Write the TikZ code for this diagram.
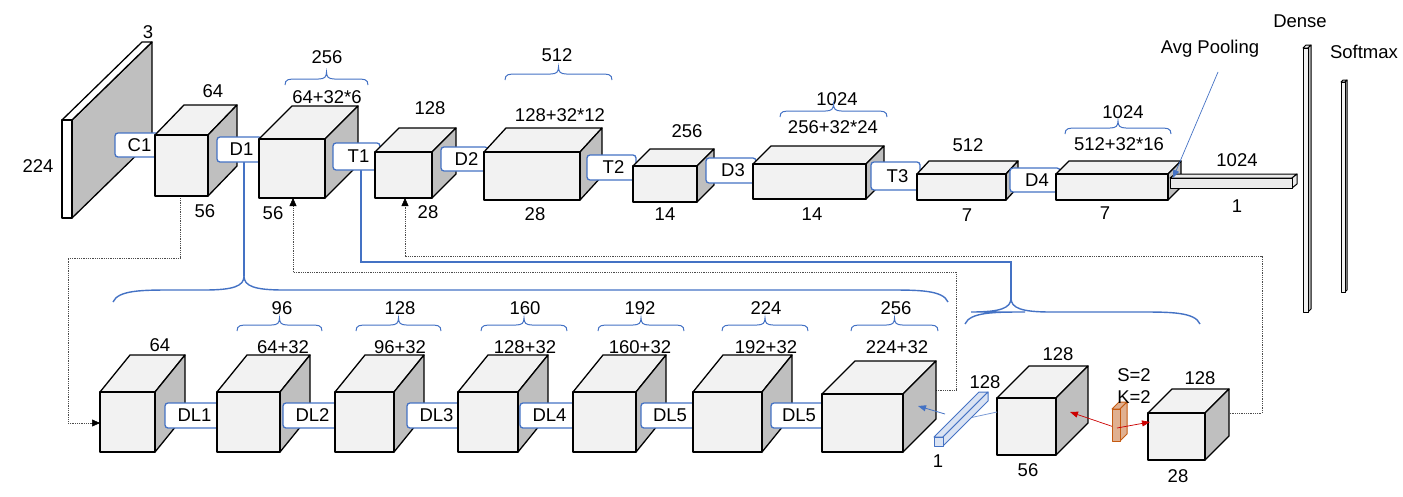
\documentclass[tikz,border=0pt]{standalone}
\usepackage{fontspec}
\setmainfont{Liberation Sans}
\usetikzlibrary{arrows.meta}
\definecolor{bl}{HTML}{4472C4}
\definecolor{lb}{HTML}{DAE3F3}
\definecolor{orn}{HTML}{C55A11}
\definecolor{ornf}{HTML}{E0B090}
\newcommand\mycube[7][]{%
 \filldraw[cube,#1] (#2,#3) -- ++(#6,-#7) -- (#4+#6,#3-#7) -- (#4,#3) -- cycle;
 \filldraw[cube,fill=sidec,#1] (#4,#3) -- (#4+#6,#3-#7) -- (#4+#6,#5-#7) -- (#4,#5) -- cycle;
 \filldraw[cube,#1] (#2,#3) rectangle (#4,#5);}
\newcommand\mybox[5]{\draw[lbox] (#1,#2) rectangle (#3,#4);
 \node[txt] (#5) at ({(#1+#3)/2+2},{(#2+#4)/2}) {#5};}
\newcommand\sbrace[3]{% x1 x2 y (bottom)
 \draw[bl,line width=1pt] (#1,#3) .. controls (#1,#3-6) and (#1+4,#3-6) .. (#1+12,#3-6)
  -- ({(#1+#2)/2-8},#3-6) .. controls ({(#1+#2)/2-2},#3-6) and ({(#1+#2)/2},#3-8) .. ({(#1+#2)/2},#3-13)
  .. controls ({(#1+#2)/2},#3-8) and ({(#1+#2)/2+2},#3-6) .. ({(#1+#2)/2+8},#3-6)
  -- (#2-12,#3-6) .. controls (#2-4,#3-6) and (#2,#3-6) .. (#2,#3);}
\newcommand\bbrace[4]{% x1 tip x2 y(bottom)
 \draw[bl,line width=1.4pt] (#1,#4) .. controls (#1+5,#4-12) and (#1+30,#4-12) .. (#1+60,#4-12)
  -- (#2-40,#4-12) .. controls (#2-10,#4-12) and (#2,#4-16) .. (#2,#4-26)
  .. controls (#2,#4-16) and (#2+10,#4-12) .. (#2+40,#4-12)
  -- (#3-60,#4-12) .. controls (#3-30,#4-12) and (#3-5,#4-12) .. (#3,#4);}
\begin{document}
\begin{tikzpicture}[x=1pt,y=-1pt,
 cube/.style={draw=black,line width=1.3pt,fill=frontc,line join=round},
 lbox/.style={draw=bl,line width=1.3pt,fill=white,rounded corners=3pt},
 txt/.style={font=\fontsize{18.5}{18.5}\selectfont,inner sep=0pt},
 dot/.style={densely dotted,line width=0.8pt,gray!60!black},
 tip/.style={-{Triangle[length=8pt,width=7pt]}},
 bline/.style={bl,line width=1.3pt}]
\colorlet{frontc}{black!5}
\colorlet{sidec}{black!25}
\useasboundingbox (0,0) rectangle (1403,496);
% connector lines
\draw[bline] (244,160) -- (244,276);
\draw[bline] (361,170) -- (361,262) -- (1011,262) -- (1011,302);
\draw[dot] (180,198) -- (180,258) -- (68,258) -- (68,423) coordinate (e1);
\coordinate (c0in) at (100,423);
\draw[dot] (e1) -- (93,423);
\draw[tip,black,line width=0.5pt,shorten <=24pt] (e1) -- (c0in);
\draw[dot] (936,390) -- (956,390) -- (956,272) -- (293,272) coordinate (e2);
\coordinate (d1b) at (293,198);
\draw[dot] (e2) -- (293,205);
\draw[tip,black,line width=0.5pt,shorten <=67pt] (e2) -- (d1b);
\draw[dot] (1228,413) -- (1262,413) -- (1262,256) -- (405,256) coordinate (e3);
\coordinate (t1b) at (405,198);
\draw[dot] (e3) -- (405,205);
\draw[tip,black,line width=0.5pt,shorten <=51pt] (e3) -- (t1b);
% top row
\filldraw[cube,fill=sidec] (72,120) -- (152,42) -- (152,140) -- (72,218) -- cycle;
\filldraw[cube,fill=white] (62,120) -- (142,42) -- (152,42) -- (72,120) -- cycle;
\filldraw[cube,fill=white] (62,120) rectangle (72,218);
\mybox{115}{133}{160}{157}{C1}
\mycube{155}{135}{208}{196}{29}{30}
\mybox{217}{137}{262}{162}{D1}
\mycube{259}{139}{325}{198}{33}{33}
\mybox{333}{143}{380}{170}{T1}
\mycube{375}{152}{432}{198}{24}{24}
\mybox{441}{147}{488}{171}{D2}
\mycube{484}{152}{580}{200}{22}{24}
\mybox{587}{155}{636}{180}{T2}
\mycube{633}{166}{697}{202}{17}{17}
\mybox{706}{158}{756}{183}{D3}
\mycube{753}{164}{866}{199}{18}{18}
\mybox{871}{162}{920}{190}{T3}
\mycube{917}{174}{1006}{200}{12}{13}
\mybox{1010}{168}{1060}{192}{D4}
\mycube{1056}{174}{1168}{200}{13}{13}
\mycube[line width=1pt,fill=black!8]{1170}{178}{1292}{188}{5}{4}
\mycube[line width=1pt]{1303}{48}{1308}{312}{3}{3}
\mycube[line width=1pt]{1341}{82}{1345}{292}{2}{2}
% avg pooling pointer
\coordinate (ap) at (1218,72);
\coordinate (apt) at (1173,178);
\draw[bl,line width=0.7pt,-{Triangle[length=8pt,width=6pt]}] (ap) -- (apt);
% top labels
\node[txt] (l3) at (148,32) {3};
\node[txt] (l224) at (38,166) {224};
\node[txt] (l64) at (213,91) {64};
\node[txt] (l56a) at (205,211) {56};
\node[txt] (l256) at (327,57) {256};
\sbrace{285}{368}{85}
\node[txt] (f1) at (327,97) {64+32*6};
\node[txt] (l56b) at (273,213) {56};
\node[txt] (l128) at (430,108) {128};
\node[txt] (l28a) at (428,212) {28};
\node[txt] (l512) at (557,55) {512};
\sbrace{505}{612}{80}
\node[txt] (f2) at (560,115) {128+32*12};
\node[txt] (l28b) at (535,214) {28};
\node[txt] (l256b) at (687,131) {256};
\node[txt] (l14a) at (665,214) {14};
\node[txt] (l1024a) at (837,99) {1024};
\sbrace{780}{887}{117}
\node[txt] (f3) at (833,127) {256+32*24};
\node[txt] (l14b) at (812,214) {14};
\node[txt] (l512b) at (968,145) {512};
\node[txt] (l7a) at (967,215) {7};
\node[txt] (l1024b) at (1123,112) {1024};
\sbrace{1065}{1171}{134}
\node[txt] (f4) at (1119,144) {512+32*16};
\node[txt] (l7b) at (1105,213) {7};
\node[txt] (l1024c) at (1237,160) {1024};
\node[txt] (l1a) at (1237,206) {1};
\node[txt] (avg) at (1210,49) {Avg Pooling};
\node[txt] (dense) at (1300,21) {Dense};
\node[txt] (soft) at (1364,52) {Softmax};
% big braces
\bbrace{113}{244}{948}{302}
\bbrace{965}{1011}{1200}{324}
% bottom row
\mycube{100}{392}{155}{452}{30}{37}
\mybox{165}{403}{220}{428}{DL1}
\mycube{217}{392}{280}{452}{30}{37}
\mybox{283}{403}{338}{428}{DL2}
\mycube{335}{392}{394}{452}{30}{37}
\mybox{407}{403}{462}{428}{DL3}
\mycube{458}{392}{518}{452}{30}{37}
\mybox{520}{403}{575}{428}{DL4}
\mycube{573}{392}{636}{452}{30}{37}
\mybox{641}{403}{695}{428}{DL5}
\mycube{693}{392}{762}{452}{30}{37}
\draw[lbox] (771,403) rectangle (825,428);
\node[txt] (DL5b) at (799,415) {DL5};
\mycube{822}{394}{903}{452}{33}{33}
\mycube{997}{398}{1056}{455}{32}{32}
\mycube{1148}{413}{1205}{460}{24}{24}
% blue bar and arrow
\coordinate (c7l) at (997,412);
\coordinate (c6s) at (918,406);
\draw[bl!70,line width=0.8pt] (c7l) -- (960,420);
\draw[bl,line width=0.8pt,-{Triangle[length=8pt,width=6pt]}] (945,414) -- (c6s);
\mycube[draw=bl,fill=lb,line width=1pt]{934}{437}{943}{446}{45}{45}
% orange slab and red arrows
\coordinate (rs) at (1117,428);
\coordinate (c7s) at (1070,412);
\coordinate (c8f) at (1150,422);
\draw[red!80!black,line width=0.7pt,-{Triangle[length=8pt,width=6pt]}] (rs) -- (c7s);
\mycube[draw=orn,fill=ornf,line width=1pt]{1112}{409}{1120}{441}{7}{7}
\draw[red!80!black,line width=0.7pt,-{Triangle[length=8pt,width=6pt]}] (rs) -- (c8f);
% bottom labels
\node[txt] (b64) at (160,345) {64};
\node[txt] (b96) at (282,308) {96}; \sbrace{237}{322}{331}
\node[txt] (g1) at (283,347) {64+32};
\node[txt] (b128) at (400,308) {128}; \sbrace{356}{441}{331}
\node[txt] (g2) at (400,347) {96+32};
\node[txt] (b160) at (525,308) {160}; \sbrace{481}{567}{331}
\node[txt] (g3) at (525,347) {128+32};
\node[txt] (b192) at (640,308) {192}; \sbrace{598}{684}{331}
\node[txt] (g4) at (640,347) {160+32};
\node[txt] (b224) at (766,308) {224}; \sbrace{722}{808}{331}
\node[txt] (g5) at (766,347) {192+32};
\node[txt] (b256) at (896,308) {256}; \sbrace{851}{938}{331}
\node[txt] (g6) at (897,347) {224+32};
\node[txt] (b128b) at (985,382) {128};
\node[txt] (b1) at (938,461) {1};
\node[txt] (b128c) at (1058,354) {128};
\node[txt] (b56) at (1028,470) {56};
\node[txt] (s2) at (1134,375) {S=2};
\node[txt] (k2) at (1134,397) {K=2};
\node[txt] (b128d) at (1200,378) {128};
\node[txt] (b28) at (1178,476) {28};
\end{tikzpicture}
\end{document}
